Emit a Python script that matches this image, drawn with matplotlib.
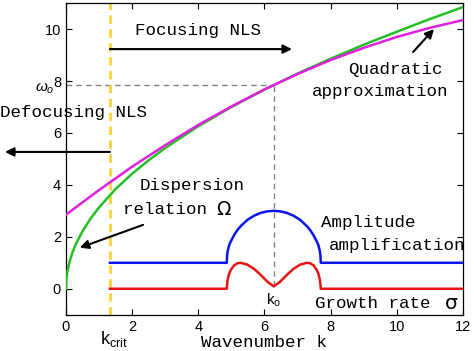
import matplotlib
matplotlib.use("Agg")
import matplotlib.pyplot as plt

plt.rcParams['mathtext.fontset'] = 'custom'
plt.rcParams['mathtext.rm'] = 'Liberation Sans'
plt.rcParams['mathtext.it'] = 'Liberation Sans:italic'

# ---- data ----
k_disp = [0, 0.02, 0.05, 0.1, 0.2, 0.3, 0.5, 0.75, 1.0, 1.5, 2, 2.5, 3, 4, 5, 6, 7, 8, 9, 10, 11, 12]
omega_disp = [0, 0.44, 0.70, 0.99, 1.40, 1.72, 2.21, 2.71, 3.13, 3.84, 4.43, 4.95, 5.42,
              6.26, 7.00, 7.67, 8.29, 8.86, 9.40, 9.90, 10.39, 10.85]

k_quad = [0, 1, 2, 3, 4, 5, 6, 7, 8, 9, 10, 11, 12]
omega_quad = [2.85, 3.80, 4.70, 5.53, 6.31, 7.02, 7.68, 8.27, 8.81, 9.28, 9.70, 10.05, 10.35]

k_amp = [1.33, 4.86, 4.87, 4.89, 4.93, 4.98, 5.08, 5.18, 5.28, 5.48, 5.68, 5.88, 6.08, 6.28,
         6.48, 6.68, 6.88, 7.08, 7.28, 7.38, 7.48, 7.58, 7.63, 7.67, 7.69, 7.70, 12]
amp = [1, 1, 1.29, 1.46, 1.67, 1.82, 2.06, 2.26, 2.41, 2.65, 2.81, 2.92, 2.98, 3.00,
       2.98, 2.92, 2.81, 2.65, 2.41, 2.26, 2.06, 1.82, 1.67, 1.46, 1.29, 1, 1]

k_sig = [1.33, 4.86, 4.87, 4.89, 4.93, 4.98, 5.08, 5.18, 5.28, 5.48, 5.68, 5.88, 6.08, 6.28,
         6.48, 6.68, 6.88, 7.08, 7.28, 7.38, 7.48, 7.58, 7.63, 7.67, 7.69, 7.70, 12]
sigma = [0, 0, 0.16, 0.36, 0.57, 0.72, 0.90, 0.98, 1.00, 0.93, 0.77, 0.54, 0.28, 0.09,
         0.28, 0.54, 0.77, 0.93, 1.00, 0.98, 0.90, 0.72, 0.57, 0.36, 0.16, 0, 0]

k_crit = 1.33
k_0 = 6.28
omega_0 = 7.85
sigma_min = 0.09

xticks = [0, 2, 4, 6, 8, 10, 12]
yticks = [0, 2, 4, 6, 8, 10]

mono = ['Liberation Mono', 'DejaVu Sans Mono']
fs = 12.6

fig = plt.figure(figsize=(4.74, 3.51), dpi=100)
ax = fig.add_axes([0.139, 0.1034, 0.838, 0.8876])

ax.set_xlim(0, 12)
ax.set_ylim(-1, 11)

# reference dashed lines
ax.plot([0, k_0], [omega_0, omega_0], ls=(0, (4, 3)), color='#808080', lw=1.0, zorder=1)
ax.plot([k_0, k_0], [sigma_min, omega_0], ls=(0, (4, 3)), color='#808080', lw=1.0, zorder=1)
ax.axvline(k_crit, ls=(0, (3, 2)), color='#f7d33a', lw=2.0, zorder=1)

ax.plot(k_amp, amp, color='#0a14f0', lw=1.8, zorder=3)
ax.plot(k_sig, sigma, color='#e81414', lw=1.8, zorder=3)
ax.plot(k_disp, omega_disp, color='#22c022', lw=1.8, zorder=3)
ax.plot(k_quad, omega_quad, color='#e020e0', lw=1.8, zorder=4)

ax.set_xticks(xticks)
ax.set_yticks(yticks)
ax.tick_params(direction='in', top=True, right=True, length=4, width=0.8, labelsize=10.5)
for lab in ax.get_xticklabels() + ax.get_yticklabels():
    lab.set_family('Liberation Sans')
for s in ax.spines.values():
    s.set_linewidth(0.9)

ax.set_xlabel('Wavenumber k', family=mono, fontsize=fs, labelpad=1)

arrow = dict(arrowstyle='-|>', lw=1.5, color='k', mutation_scale=13, shrinkA=0, shrinkB=0)
ax.annotate('', xy=(6.83, 9.23), xytext=(k_crit, 9.23), arrowprops=arrow, annotation_clip=False)
ax.annotate('', xy=(-1.84, 5.27), xytext=(k_crit, 5.27), arrowprops=arrow, annotation_clip=False)
ax.annotate('', xy=(11.12, 10.0), xytext=(10.49, 9.12), arrowprops=arrow)
ax.annotate('', xy=(0.42, 1.58), xytext=(2.33, 2.46), arrowprops=arrow)

ax.text(3.98, 9.96, 'Focusing NLS', family=mono, fontsize=fs, ha='center', va='center')
ax.text(-1.99, 6.77, 'Defocusing NLS', family=mono, fontsize=fs, ha='left', va='center')
ax.text(9.95, 8.46, 'Quadratic', family=mono, fontsize=fs, ha='center', va='center')
ax.text(9.49, 7.58, 'approximation', family=mono, fontsize=fs, ha='center', va='center')
ax.text(2.22, 3.97, 'Dispersion', family=mono, fontsize=fs, ha='left', va='center')
ax.text(1.73, 3.04, 'relation ', family=mono, fontsize=fs, ha='left', va='center')
ax.text(4.55, 3.06, 'Ω', family=['DejaVu Sans'], fontsize=fs + 1, ha='left', va='center')
ax.text(7.72, 2.56, 'Amplitude', family=mono, fontsize=fs, ha='left', va='center')
ax.text(7.93, 1.65, 'amplification', family=mono, fontsize=fs, ha='left', va='center')
ax.text(7.53, -0.58, 'Growth rate ', family=mono, fontsize=fs, ha='left', va='center')
ax.text(11.45, -0.56, 'σ', family=['DejaVu Sans'], fontsize=fs + 2, ha='left', va='center')

ax.text(k_0, -0.45, r'$\mathrm{k_o}$', fontsize=11, ha='center', va='center')
ax.text(-0.36, 7.72, r'$\omega_o$', fontsize=11, ha='right', va='center', clip_on=False)
ax.text(1.45, -1.95, r'$\mathrm{k_{crit}}$', fontsize=13, ha='center', va='center', clip_on=False)

fig.savefig('out.png', dpi=100)
